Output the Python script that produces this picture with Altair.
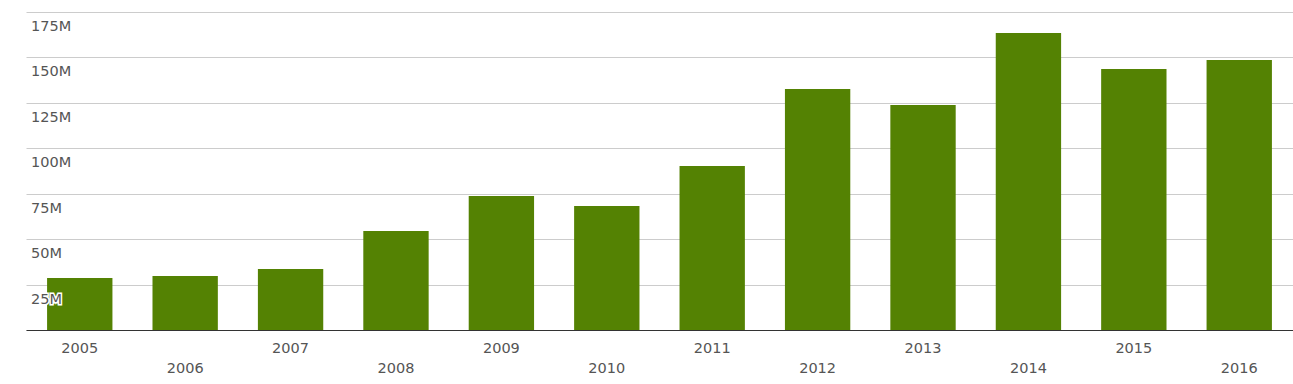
import altair as alt
import pandas as pd

years = ["2005", "2006", "2007", "2008", "2009", "2010",
         "2011", "2012", "2013", "2014", "2015", "2016"]
values = [28.6e6, 29.7e6, 33.6e6, 54.5e6, 73.7e6, 68.2e6,
          90.3e6, 132.6e6, 123.8e6, 163.4e6, 143.6e6, 148.6e6]
ytick_values = [25e6, 50e6, 75e6, 100e6, 125e6, 150e6, 175e6]
ytick_labels = ["25M", "50M", "75M", "100M", "125M", "150M", "175M"]

df = pd.DataFrame({"year": years, "value": values})
ticks = pd.DataFrame({"v": ytick_values, "lab": ytick_labels})

FONT = "DejaVu Sans"
LABEL_COLOR = "#555555"
FS = 14.5

yscale = alt.Scale(domain=[0, 175e6], nice=False, zero=True)
yaxis = alt.Axis(values=[0] + ytick_values, labels=False, ticks=False, domain=False,
                 grid=True, gridColor="#cccccc", gridWidth=1, title=None)

bars = alt.Chart(df).mark_bar(color="#548203").encode(
    x=alt.X("year:N", sort=years, title=None,
            scale=alt.Scale(paddingInner=0.38, paddingOuter=0.2),
            axis=alt.Axis(labelAngle=0, ticks=False, tickSize=0,
                          domain=True, domainColor="#333333", domainWidth=1,
                          labelFont=FONT, labelFontSize=FS, labelColor=LABEL_COLOR,
                          labelBaseline="top",
                          labelPadding={"condition": {"test": "datum.value % 2 == 0", "value": 31}, "value": 11},
                          grid=False, zindex=1)),
    y=alt.Y("value:Q", scale=yscale, title=None, axis=yaxis),
)

halo = alt.Chart(ticks).mark_text(
    align="left", baseline="alphabetic", dx=5, dy=19, font=FONT, fontSize=FS,
    stroke="white", strokeWidth=3, fill="white"
).encode(x=alt.value(0), y=alt.Y("v:Q", scale=yscale, axis=yaxis), text="lab:N")

labels = alt.Chart(ticks).mark_text(
    align="left", baseline="alphabetic", dx=5, dy=19, font=FONT, fontSize=FS,
    color=LABEL_COLOR
).encode(x=alt.value(0), y=alt.Y("v:Q", scale=yscale, axis=yaxis), text="lab:N")

chart = alt.layer(bars, halo, labels).properties(
    width=1267, height=318,
    padding={"left": 26, "top": 12, "right": 0, "bottom": 54},
    autosize=alt.AutoSizeParams(type="none"),
    background="white",
).configure_view(strokeWidth=0, stroke="transparent")

chart.save("out.html", embed_options={"renderer": "svg", "actions": False})
